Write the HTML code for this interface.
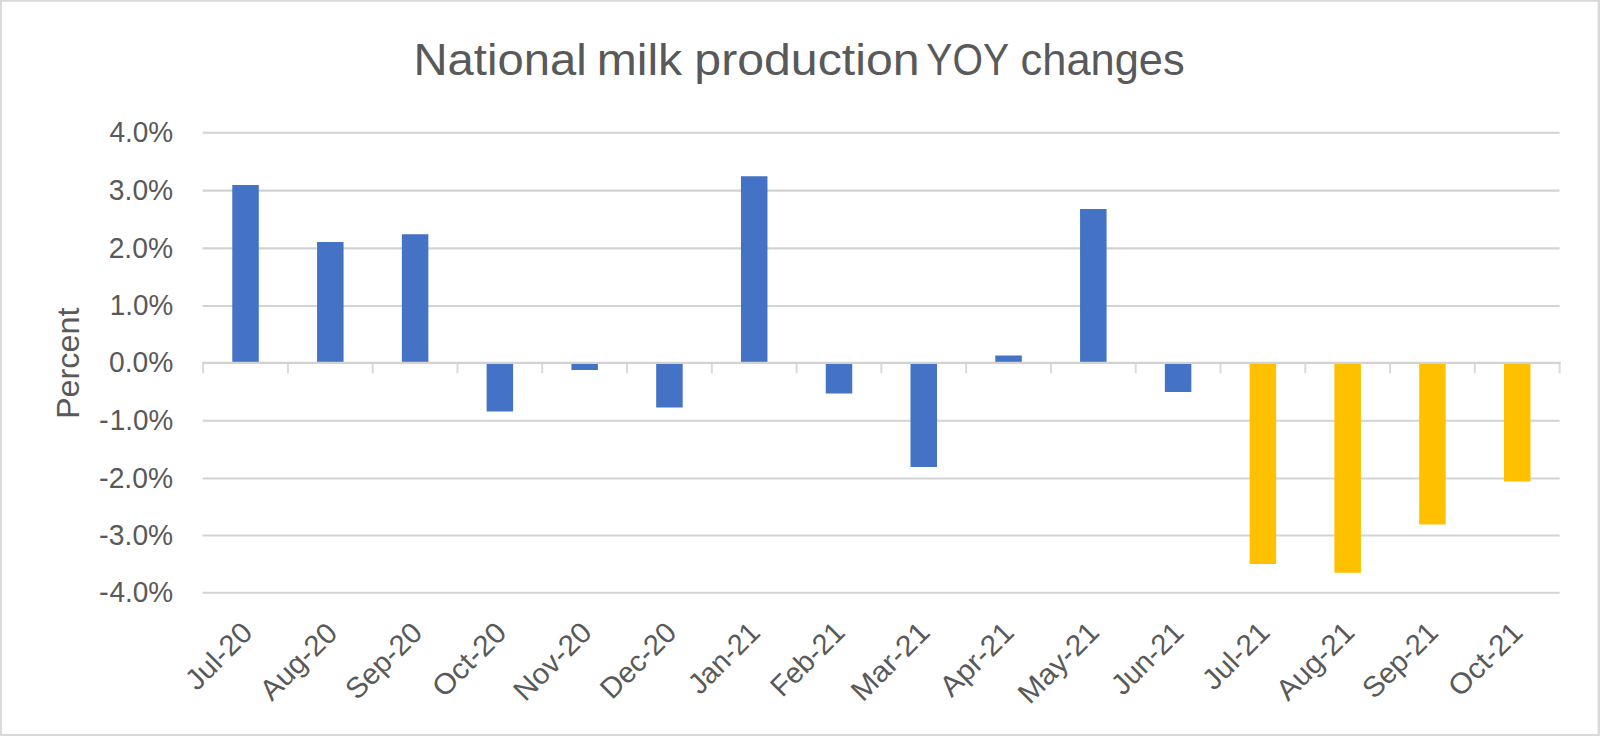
<!DOCTYPE html>
<html lang="en"><head><meta charset="utf-8">
<title>National milk production YOY changes</title>
<style>html,body{margin:0;padding:0;background:#fff;}body{width:1600px;height:736px;overflow:hidden;}svg{display:block;}text{font-family:'Liberation Sans', sans-serif;fill:#595959;}</style>
</head><body>
<svg width="1600" height="736" viewBox="0 0 1600 736">
<rect x="0" y="0" width="1600" height="736" fill="#ffffff"/>
<path fill="#d9d9d9" d="M0 0H1600 V736 H0Z M1.9 1.8 V734.1 H1597.6 V1.8Z" fill-rule="evenodd"/>
<g stroke="#d3d3d3" stroke-width="2.1" fill="none">
<line x1="202.5" y1="132.75" x2="1559.6" y2="132.75"/>
<line x1="202.5" y1="190.60" x2="1559.6" y2="190.60"/>
<line x1="202.5" y1="248.35" x2="1559.6" y2="248.35"/>
<line x1="202.5" y1="306.00" x2="1559.6" y2="306.00"/>
<line x1="202.5" y1="420.80" x2="1559.6" y2="420.80"/>
<line x1="202.5" y1="478.50" x2="1559.6" y2="478.50"/>
<line x1="202.5" y1="535.50" x2="1559.6" y2="535.50"/>
<line x1="202.5" y1="592.80" x2="1559.6" y2="592.80"/>
</g>
<rect x="232.29" y="185.00" width="26.50" height="177.80" fill="#4472c4"/>
<rect x="317.07" y="242.00" width="26.50" height="120.80" fill="#4472c4"/>
<rect x="401.85" y="234.25" width="26.50" height="128.55" fill="#4472c4"/>
<rect x="486.62" y="362.80" width="26.50" height="48.70" fill="#4472c4"/>
<rect x="571.40" y="362.80" width="26.50" height="7.20" fill="#4472c4"/>
<rect x="656.18" y="362.80" width="26.50" height="44.70" fill="#4472c4"/>
<rect x="740.96" y="176.25" width="26.50" height="186.55" fill="#4472c4"/>
<rect x="825.74" y="362.80" width="26.50" height="30.70" fill="#4472c4"/>
<rect x="910.51" y="362.80" width="26.50" height="104.20" fill="#4472c4"/>
<rect x="995.29" y="355.50" width="26.50" height="7.30" fill="#4472c4"/>
<rect x="1080.07" y="209.00" width="26.50" height="153.80" fill="#4472c4"/>
<rect x="1164.85" y="362.80" width="26.50" height="29.20" fill="#4472c4"/>
<rect x="1249.63" y="362.80" width="26.50" height="201.20" fill="#ffc000"/>
<rect x="1334.40" y="362.80" width="26.50" height="209.95" fill="#ffc000"/>
<rect x="1419.18" y="362.80" width="26.50" height="161.70" fill="#ffc000"/>
<rect x="1503.96" y="362.80" width="26.50" height="118.70" fill="#ffc000"/>
<g stroke="#dadada" stroke-width="2" fill="none">
<line x1="203.15" y1="362.80" x2="203.15" y2="373.30"/>
<line x1="287.93" y1="362.80" x2="287.93" y2="373.30"/>
<line x1="372.71" y1="362.80" x2="372.71" y2="373.30"/>
<line x1="457.48" y1="362.80" x2="457.48" y2="373.30"/>
<line x1="542.26" y1="362.80" x2="542.26" y2="373.30"/>
<line x1="627.04" y1="362.80" x2="627.04" y2="373.30"/>
<line x1="711.82" y1="362.80" x2="711.82" y2="373.30"/>
<line x1="796.60" y1="362.80" x2="796.60" y2="373.30"/>
<line x1="881.37" y1="362.80" x2="881.37" y2="373.30"/>
<line x1="966.15" y1="362.80" x2="966.15" y2="373.30"/>
<line x1="1050.93" y1="362.80" x2="1050.93" y2="373.30"/>
<line x1="1135.71" y1="362.80" x2="1135.71" y2="373.30"/>
<line x1="1220.49" y1="362.80" x2="1220.49" y2="373.30"/>
<line x1="1305.27" y1="362.80" x2="1305.27" y2="373.30"/>
<line x1="1390.04" y1="362.80" x2="1390.04" y2="373.30"/>
<line x1="1474.82" y1="362.80" x2="1474.82" y2="373.30"/>
<line x1="1559.60" y1="362.80" x2="1559.60" y2="373.30"/>
</g>
<line x1="202.2" y1="362.80" x2="1560.6" y2="362.80" stroke="#d2d2d2" stroke-width="2.3" fill="none"/>
<text y="74.70" font-size="44.80">
<tspan x="413.45" textLength="173.21" lengthAdjust="spacingAndGlyphs">National</tspan>
<tspan x="596.69" textLength="85.44" lengthAdjust="spacingAndGlyphs">milk</tspan>
<tspan x="694.39" textLength="225.14" lengthAdjust="spacingAndGlyphs">production</tspan>
<tspan x="926.34" textLength="81.99" lengthAdjust="spacingAndGlyphs">YOY</tspan>
<tspan x="1020.60" textLength="164.08" lengthAdjust="spacingAndGlyphs">changes</tspan>
</text>
<text x="109.46" y="142.00" font-size="29.00" textLength="63.80" lengthAdjust="spacingAndGlyphs">4.0%</text>
<text x="108.87" y="200.00" font-size="29.00" textLength="64.30" lengthAdjust="spacingAndGlyphs">3.0%</text>
<text x="108.68" y="258.00" font-size="29.00" textLength="64.34" lengthAdjust="spacingAndGlyphs">2.0%</text>
<text x="109.74" y="315.00" font-size="29.00" textLength="63.45" lengthAdjust="spacingAndGlyphs">1.0%</text>
<text x="109.06" y="372.00" font-size="29.00" textLength="64.36" lengthAdjust="spacingAndGlyphs">0.0%</text>
<text y="430.00" font-size="29.00"><tspan x="99.03">-</tspan><tspan x="109.74" textLength="63.45" lengthAdjust="spacingAndGlyphs">1.0%</tspan></text>
<text y="488.00" font-size="29.00"><tspan x="99.03">-</tspan><tspan x="108.68" textLength="64.34" lengthAdjust="spacingAndGlyphs">2.0%</tspan></text>
<text y="545.00" font-size="29.00"><tspan x="99.03">-</tspan><tspan x="108.87" textLength="64.30" lengthAdjust="spacingAndGlyphs">3.0%</tspan></text>
<text y="602.00" font-size="29.00"><tspan x="99.03">-</tspan><tspan x="109.46" textLength="63.80" lengthAdjust="spacingAndGlyphs">4.0%</tspan></text>
<text transform="translate(79.00 363.31) rotate(-90)" font-size="31.20" text-anchor="middle" textLength="111.65" lengthAdjust="spacingAndGlyphs">Percent</text>
<text transform="translate(254.25 634.39) rotate(-45)" font-size="29.00" text-anchor="end" textLength="81.00" lengthAdjust="spacingAndGlyphs">Jul-20</text>
<text transform="translate(338.95 634.82) rotate(-45)" font-size="29.00" text-anchor="end" textLength="94.89" lengthAdjust="spacingAndGlyphs">Aug-20</text>
<text transform="translate(423.86 634.53) rotate(-45)" font-size="29.00" text-anchor="end" textLength="94.06" lengthAdjust="spacingAndGlyphs">Sep-20</text>
<text transform="translate(508.21 634.39) rotate(-45)" font-size="29.00" text-anchor="end" textLength="90.94" lengthAdjust="spacingAndGlyphs">Oct-20</text>
<text transform="translate(593.42 634.33) rotate(-45)" font-size="29.00" text-anchor="end" textLength="96.27" lengthAdjust="spacingAndGlyphs">Nov-20</text>
<text transform="translate(678.15 634.39) rotate(-45)" font-size="29.00" text-anchor="end" textLength="93.41" lengthAdjust="spacingAndGlyphs">Dec-20</text>
<text transform="translate(761.58 634.28) rotate(-45)" font-size="29.00" text-anchor="end" textLength="87.01" lengthAdjust="spacingAndGlyphs">Jan-21</text>
<text transform="translate(846.42 634.09) rotate(-45)" font-size="29.00" text-anchor="end" textLength="90.79" lengthAdjust="spacingAndGlyphs">Feb-21</text>
<text transform="translate(931.49 634.01) rotate(-45)" font-size="29.00" text-anchor="end" textLength="97.35" lengthAdjust="spacingAndGlyphs">Mar-21</text>
<text transform="translate(1015.73 634.07) rotate(-45)" font-size="29.00" text-anchor="end" textLength="90.87" lengthAdjust="spacingAndGlyphs">Apr-21</text>
<text transform="translate(1101.00 633.87) rotate(-45)" font-size="29.00" text-anchor="end" textLength="100.85" lengthAdjust="spacingAndGlyphs">May-21</text>
<text transform="translate(1185.39 634.17) rotate(-45)" font-size="29.00" text-anchor="end" textLength="88.15" lengthAdjust="spacingAndGlyphs">Jun-21</text>
<text transform="translate(1271.39 633.95) rotate(-45)" font-size="29.00" text-anchor="end" textLength="81.33" lengthAdjust="spacingAndGlyphs">Jul-21</text>
<text transform="translate(1356.19 633.93) rotate(-45)" font-size="29.00" text-anchor="end" textLength="96.37" lengthAdjust="spacingAndGlyphs">Aug-21</text>
<text transform="translate(1439.90 634.24) rotate(-45)" font-size="29.00" text-anchor="end" textLength="92.93" lengthAdjust="spacingAndGlyphs">Sep-21</text>
<text transform="translate(1524.31 634.01) rotate(-45)" font-size="29.00" text-anchor="end" textLength="90.81" lengthAdjust="spacingAndGlyphs">Oct-21</text>
</svg>
</body></html>
